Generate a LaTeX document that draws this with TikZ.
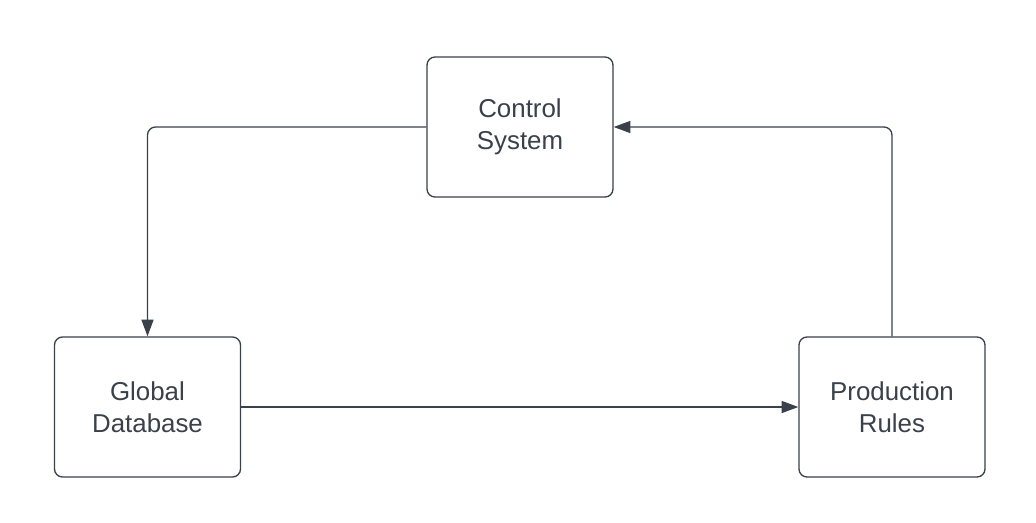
\documentclass[tikz,border=0pt]{standalone}
\usepackage{fontspec}
\setmainfont{Liberation Sans}
\usetikzlibrary{arrows.meta}
\definecolor{ink}{HTML}{3A414A}
\begin{document}
\begin{tikzpicture}[x=0.75pt,y=-0.75pt,
  box/.style={draw=ink, line width=1.0pt, rounded corners=6pt, minimum width=186*0.75pt, minimum height=140*0.75pt, inner sep=0pt, align=center, text=ink, font=\fontsize{19.4}{23.7}\selectfont},
  link/.style={draw=ink, line width=1.0pt, rounded corners=6pt, -{Triangle[length=12.5pt,width=9pt]}}]
\useasboundingbox[fill=white] (0,0) rectangle (1036,522);
\node[box] (cs) at (520,127) {Control\\System};
\node[box] (gd) at (147.5,407) {Global\\Database};
\node[box] (pr) at (892,407) {Production\\Rules};
\draw[link] (cs.west) -| (gd.north);
\draw[link] (gd.east) -- (pr.west);
\draw[link] (pr.north) |- (cs.east);
\end{tikzpicture}
\end{document}
